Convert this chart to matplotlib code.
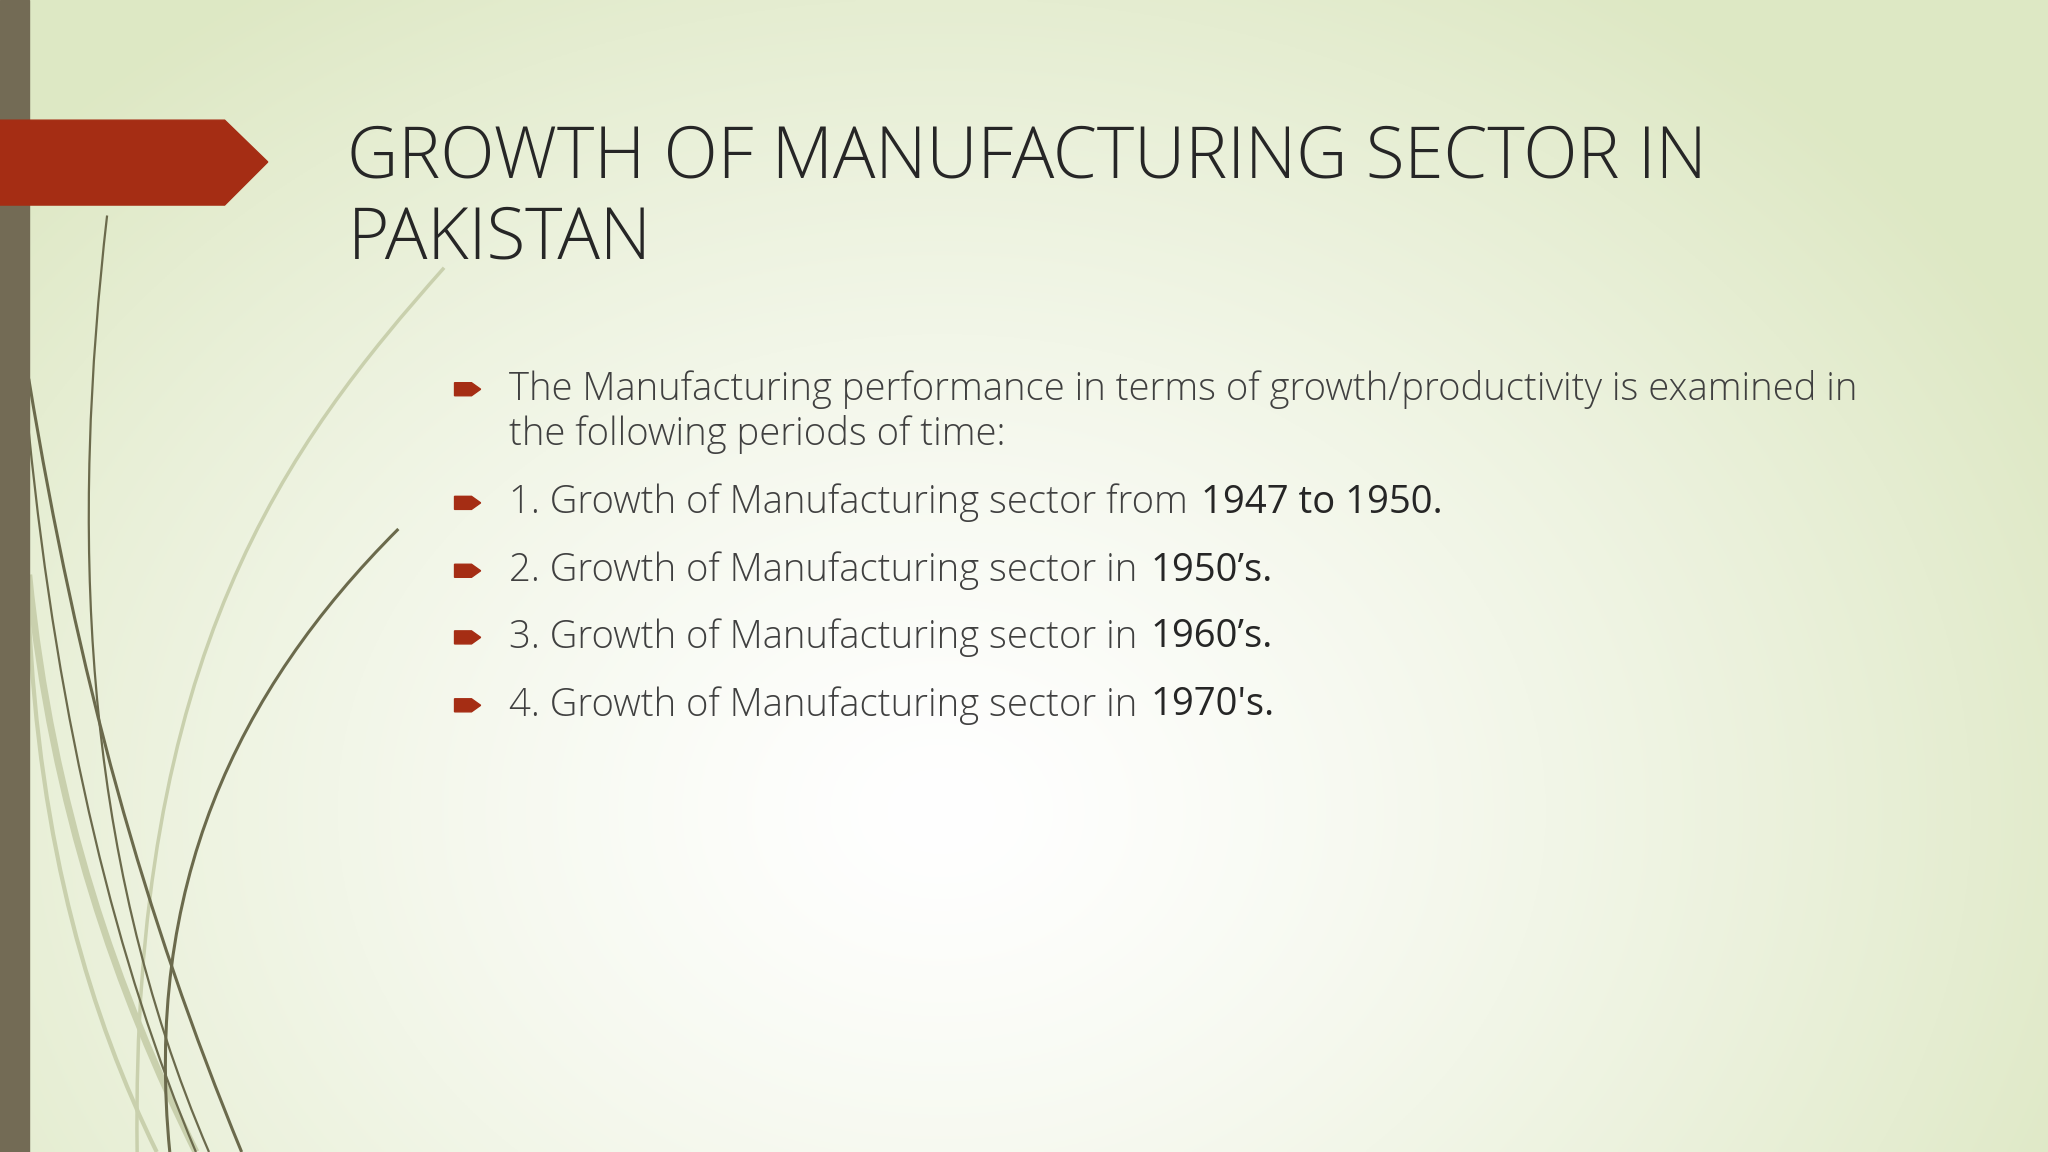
import numpy as np
import matplotlib
matplotlib.use("Agg")
import matplotlib.pyplot as plt
from matplotlib.path import Path
from matplotlib.patches import PathPatch, Polygon

title_lines = ["GROWTH OF MANUFACTURING SECTOR IN", "PAKISTAN"]
bullets = [
    (["The Manufacturing performance in terms of growth/productivity is examined in",
      "the following periods of time:"], ""),
    (["1. Growth of Manufacturing sector from "], "1947 to 1950."),
    (["2. Growth of Manufacturing sector in "], "1950\u2019s."),
    (["3. Growth of Manufacturing sector in "], "1960\u2019s."),
    (["4. Growth of Manufacturing sector in "], "1970's."),
]
bullet_y = [298, 385, 437, 488, 540]

W, H = 1568, 882
fig = plt.figure(figsize=(20.48, 11.52), dpi=100)
ax = fig.add_axes([0, 0, 1, 1])
ax.set_xlim(0, W); ax.set_ylim(H, 0); ax.axis("off")

yy, xx = np.mgrid[0:H:2, 0:W:2]
d = np.sqrt(((xx - 720) / 950) ** 2 + ((yy - 620) / 750) ** 2)
d = np.clip(d, 0, 1)
c0 = np.array([1.0, 1.0, 1.0]); c1 = np.array([0.87, 0.91, 0.77])
img = c0 + (c1 - c0) * d[..., None] ** 1.3
ax.imshow(img, extent=[0, W, H, 0], zorder=0, aspect="auto")

def curve(pts, color, lw, alpha=1.0):
    codes = [Path.MOVETO] + [Path.CURVE4] * (len(pts) - 1)
    ax.add_patch(PathPatch(Path(pts, codes), fill=False, ec=color, lw=lw, alpha=alpha, zorder=2))

light = "#c9d0ad"; dark = "#6b6a4c"
curve([(340, 205), (220, 340), (100, 500), (105, 882)], light, 2.5)
curve([(22, 440), (40, 620), (90, 760), (150, 882)], light, 5)
curve([(22, 470), (30, 650), (70, 780), (120, 882)], light, 3)
curve([(82, 165), (55, 400), (60, 650), (160, 882)], dark, 1.6)
curve([(22, 290), (60, 520), (110, 700), (185, 882)], dark, 2.2)
curve([(305, 405), (180, 530), (110, 680), (130, 882)], dark, 2.2)
curve([(22, 330), (45, 560), (90, 740), (150, 882)], dark, 1.6)

ax.add_patch(Polygon([(0, 0), (22, 0), (22, H), (0, H)], color="#736b55", zorder=3))
ax.add_patch(Polygon([(0, 92), (172, 92), (205, 124), (172, 157), (0, 157)], color="#a52d14", zorder=4))

fam = ["Open Sans", "DejaVu Sans"]
for i, t in enumerate(title_lines):
    ax.text(266, 121 + 62 * i, t, fontsize=51, family=fam, weight="light", color="#262626",
            va="center", zorder=5)

fig.canvas.draw()
r = fig.canvas.get_renderer()
for (lines, strong), y in zip(bullets, bullet_y):
    ax.add_patch(Polygon([(348, y - 5), (361, y - 5), (368, y), (361, y + 5), (348, y + 5)],
                         color="#a52d14", zorder=5))
    for j, ln in enumerate(lines):
        t = ax.text(390, y + 35 * j, ln, fontsize=27.5, family=fam, weight="light", color="#404040",
                    va="center", zorder=5)
    if strong:
        bb = t.get_window_extent(r)
        x_end = ax.transData.inverted().transform((bb.x1, 0))[0]
        ax.text(x_end + 2, y, strong, fontsize=27.5, family=fam, weight="normal", color="#262626",
                va="center", zorder=5)

fig.savefig("out.png", dpi=100)
